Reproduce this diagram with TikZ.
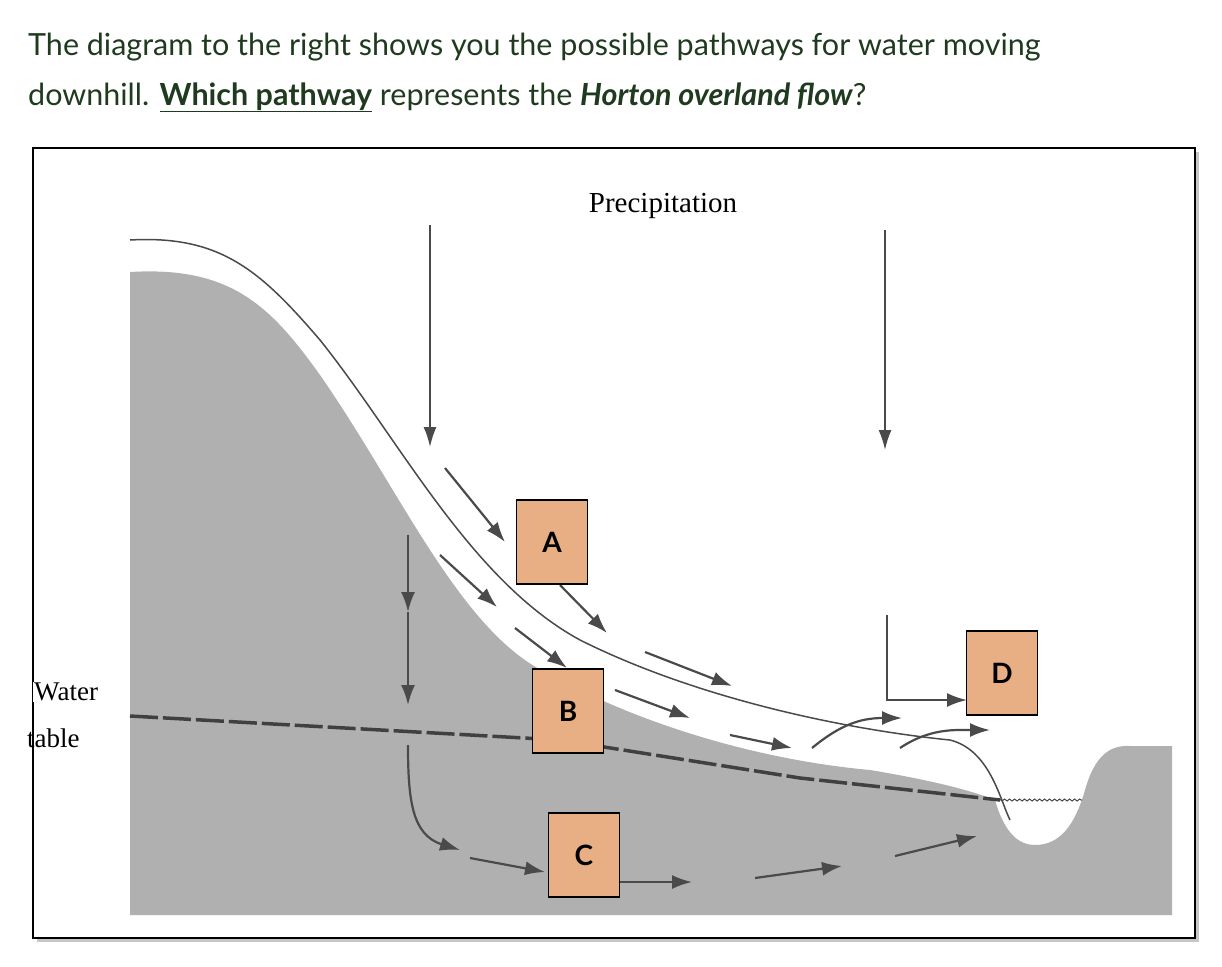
\documentclass[tikz,border=0pt]{standalone}
\usepackage{fontspec}
\setmainfont{Lato}
\newfontfamily\serifdiag{Liberation Serif}
\usetikzlibrary{arrows.meta,decorations.pathmorphing}
\definecolor{titlegreen}{HTML}{1F3A1F}
\definecolor{boxfill}{HTML}{E8AF85}
\definecolor{arr}{HTML}{4A4A4A}
\begin{document}
\begin{tikzpicture}[x=1pt,y=-1pt,
  flow/.style={arr,line width=2.2pt,-{Latex[length=20pt,width=14pt]}},
  rain/.style={arr,line width=1.8pt,-{Latex[length=20pt,width=13pt]}},
  lbox/.style={draw=black,line width=1.5pt,fill=boxfill,minimum width=71pt,minimum height=84pt,font=\fontsize{28}{28}\selectfont\bfseries}]
\useasboundingbox (0,0) rectangle (1222,966);
% title
\node[anchor=base west,inner sep=0pt,text=titlegreen,font=\fontsize{30.5}{30.5}\selectfont] (t1) at (28,56) {The diagram to the right shows you the possible pathways for water moving};
\node[anchor=base west,inner sep=0pt,text=titlegreen,font=\fontsize{30.5}{30.5}\selectfont] (t2) at (28,105) {downhill. \textbf{\underline{Which pathway}} represents the \textbf{\textit{Horton overland flow}}?};
% frame shadow + frame
\fill[gray!45] (37,152) rectangle (1199,942);
\draw[line width=2.5pt,fill=white] (33,148) rectangle (1195,938);
% terrain
\fill[gray!62] (130,915) -- (130,272) .. controls (230,266) and (270,305) .. (320,375)
  .. controls (400,490) and (460,630) .. (545,672)
  .. controls (640,725) and (760,760) .. (870,770)
  .. controls (930,780) and (970,790) .. (995,800)
  .. controls (1005,835) and (1020,845) .. (1035,845)
  .. controls (1060,845) and (1075,825) .. (1085,790)
  .. controls (1095,755) and (1110,745) .. (1130,746) -- (1172,746) -- (1172,915) -- cycle;
% soil upper line
\draw[arr,line width=1.5pt] (130,240) .. controls (220,235) and (260,270) .. (320,340)
  .. controls (400,440) and (470,580) .. (580,640)
  .. controls (700,700) and (850,730) .. (950,740)
  .. controls (990,750) and (1000,800) .. (1010,820);
\draw[arr,line width=1pt,decorate,decoration={snake,amplitude=1pt,segment length=5pt}] (998,800) -- (1082,800);
% water table
\draw[black!75,line width=3.5pt,dash pattern=on 28pt off 5pt] (130,716) -- (560,740) -- (800,778) -- (1000,800);
% precipitation
\node[font=\serifdiag\fontsize{29}{29}\selectfont] (prec) at (663,206) {Precipitation};
\coordinate (p1s) at (430,225); \coordinate (p1e) at (430,447);
\coordinate (p2s) at (885,230); \coordinate (p2e) at (885,450);
\draw[rain] (p1s) -- (p1e);
\draw[rain] (p2s) -- (p2e);
\node[font=\serifdiag\fontsize{27}{27}\selectfont,anchor=west,fill=white,inner sep=1pt] (wt1) at (33,692) {Water};
\node[font=\serifdiag\fontsize{27}{27}\selectfont,anchor=west,inner sep=1pt] (wt2) at (26,738) {table};
% flows
\draw[flow] (445,468) -- (505,542);
\draw[flow] (440,555) -- (497,607);
\draw[flow] (515,628) -- (567,668);
\draw[flow] (560,585) -- (607,633);
\draw[flow] (645,652) -- (732,686);
\draw[flow] (615,690) -- (690,718);
\draw[flow] (730,735) -- (792,748);
\draw[flow] (812,748) .. controls (840,725) and (860,718) .. (902,718);
\draw[flow] (900,748) .. controls (930,728) and (955,730) .. (990,730);
\draw[flow] (887,615) -- (887,700) -- (967,700);
\draw[flow] (408,535) -- (408,612);
\draw[flow] (408,612) -- (408,705);
\draw[flow] (408,745) .. controls (408,800) and (412,835) .. (460,850);
\draw[flow] (470,858) -- (545,872);
\draw[flow] (620,882) -- (692,882);
\draw[flow] (755,878) -- (842,866);
\draw[flow] (895,856) -- (977,836);
% boxes
\node[lbox] (A) at (552,542) {A};
\node[lbox] (B) at (568,711) {B};
\node[lbox] (C) at (584,855) {C};
\node[lbox] (D) at (1002,673) {D};
\end{tikzpicture}
\end{document}
